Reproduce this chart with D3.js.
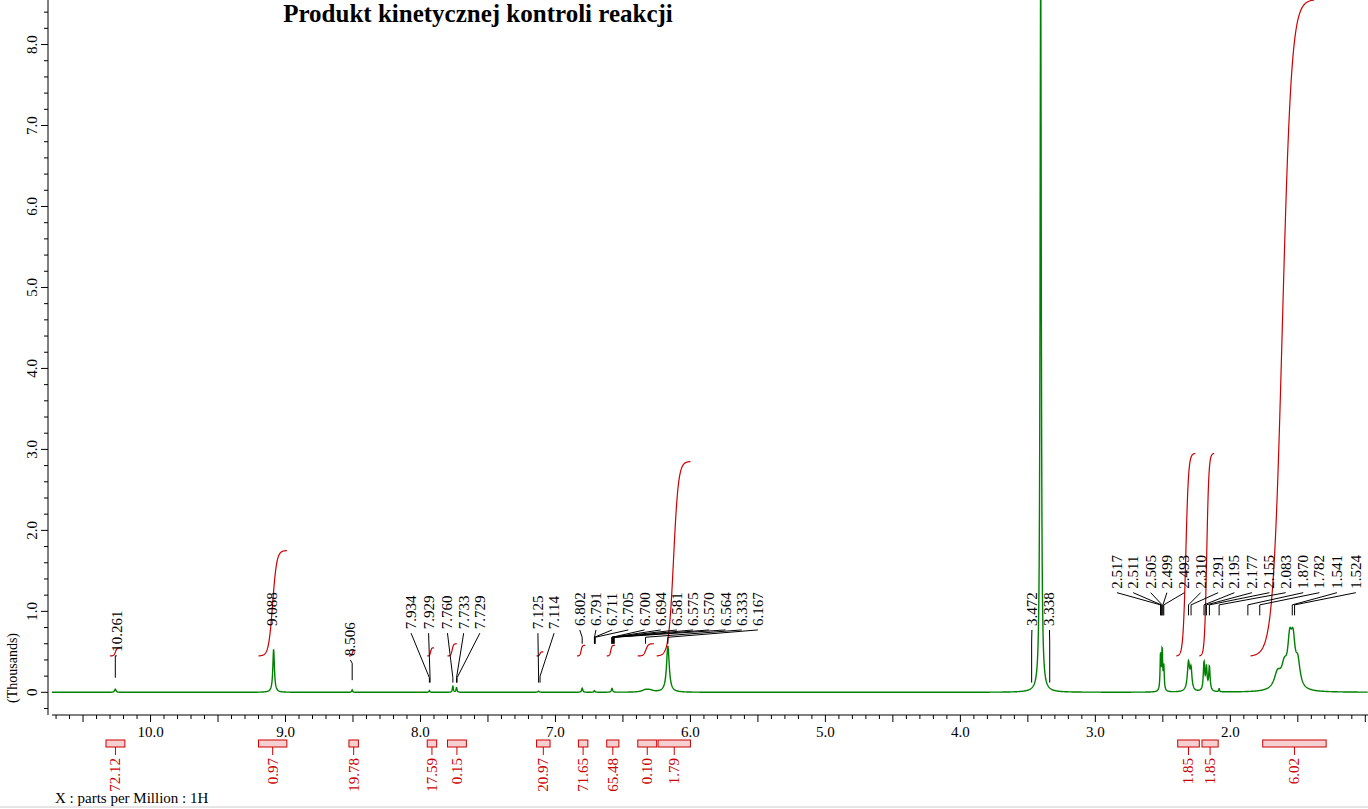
<!DOCTYPE html><html><head><meta charset="utf-8"><script src="https://cdn.jsdelivr.net/npm/d3@7"></script>
<style>body{margin:0;background:#fff}svg{font-family:"Liberation Serif","Times New Roman",serif}</style></head><body><svg id="c" width="1368" height="809"></svg>
<script>
// peaks: ppm, height (thousands), half-width (ppm)
const peakPpm=[10.261,9.088,8.506,7.934,7.760,7.733,7.125,6.802,6.711,6.581,6.333,6.30,6.167,3.405,2.517,2.505,2.493,2.310,2.291,2.195,2.177,2.155,2.083,1.65,1.60,1.56,1.535,1.50];
const peakH=[0.04,0.53,0.03,0.02,0.08,0.06,0.015,0.05,0.02,0.05,0.025,0.02,0.57,9.5,0.45,0.5,0.3,0.35,0.25,0.35,0.28,0.3,0.04,0.2,0.25,0.5,0.5,0.3];
const peakW=[0.006,0.007,0.004,0.004,0.004,0.004,0.006,0.005,0.005,0.005,0.03,0.03,0.012,0.005,0.004,0.004,0.004,0.01,0.008,0.006,0.006,0.006,0.003,0.03,0.025,0.018,0.018,0.02];
// integral curves: start ppm, end ppm, base, top (thousands)
const intS=[10.30,9.20,8.53,7.95,7.80,7.14,6.84,6.62,6.39,6.25,2.40,2.23,1.85];
const intE=[10.22,8.99,8.48,7.90,7.73,7.09,6.78,6.56,6.27,6.00,2.26,2.12,1.38];
const intB=[0.45,0.45,0.45,0.45,0.45,0.45,0.45,0.45,0.45,0.45,0.45,0.45,0.45];
const intT=[0.55,1.75,0.52,0.55,0.6,0.5,0.58,0.58,0.6,2.85,2.95,2.95,8.55];
// integration regions
const regS=[10.33,9.20,8.53,7.95,7.80,7.14,6.83,6.62,6.39,6.24,2.39,2.21,1.76];
const regE=[10.19,8.99,8.46,7.88,7.66,7.04,6.76,6.53,6.25,6.00,2.23,2.09,1.29];
const regLab=["72.12","0.97","19.78","17.59","0.15","20.97","71.65","65.48","0.10","1.79","1.85","1.85","6.02"];
// peak labels: text, label ppm position, peak ppm, group
const lblTxt=["10.261","9.088","8.506","7.934","7.929","7.760","7.733","7.729","7.125","7.114","6.802","6.791","6.711","6.705","6.700","6.694","6.581","6.575","6.570","6.564","6.333","6.167","3.472","3.338","2.517","2.511","2.505","2.499","2.493","2.310","2.291","2.195","2.177","2.155","2.083","1.870","1.782","1.541","1.524"];
const lblPpm=[10.25,9.10,8.52,8.07,7.94,7.80,7.68,7.56,7.13,7.01,6.82,6.70,6.58,6.46,6.34,6.22,6.10,5.98,5.86,5.74,5.62,5.50,3.47,3.34,2.84,2.72,2.59,2.47,2.34,2.22,2.09,1.97,1.84,1.71,1.59,1.46,1.34,1.21,1.07];
const lblPk=[10.261,9.088,8.506,7.934,7.929,7.760,7.733,7.729,7.125,7.114,6.802,6.711,6.711,6.705,6.581,6.581,6.581,6.575,6.570,6.564,6.333,6.167,3.472,3.338,2.517,2.511,2.505,2.499,2.493,2.310,2.291,2.195,2.177,2.155,2.083,1.870,1.782,1.541,1.524];
const lblGrp=[0,1,2,3,3,3,3,3,4,4,5,5,5,5,5,5,5,5,5,5,5,5,6,6,7,7,7,7,7,7,7,7,7,7,7,7,7,7,7];
// group geometry in thousands: text bottom, line bend, line end
const grpBot=[0.5,0.82,0.45,0.78,0.78,0.82,0.82,1.28];
const grpBend=[0.52,0.85,0.36,0.18,0.2,0.68,0.62,1.08];
const grpEnd=[0.18,0.85,0.15,0.12,0.12,0.6,0.12,0.95];
const yTicks=[0,1,2,3,4,5,6,7,8];
const xTicks=[10,9,8,7,6,5,4,3,2];

const svg=d3.select("#c");
const x=d3.scaleLinear().domain([10.73,0.98]).range([52,1368]);
const y=d3.scaleLinear().domain([-0.28,8.55]).range([715,0]);
const g=svg.append("g");
const pts=d3.range(10.73,0.98,-0.002).map(p=>{let v=0;for(let i=0;i<peakPpm.length;i++){const d=(p-peakPpm[i])/peakW[i];v+=peakH[i]/(1+d*d);}return [p,Math.min(v,8.7)];});
g.append("path").attr("d",d3.line().x(d=>x(d[0])).y(d=>y(d[1]))(pts)).attr("fill","none").attr("stroke","#008000").attr("stroke-width",1.4);
intS.forEach((s,i)=>{const e=intE[i];const ps=d3.range(0,1.0001,0.01).map(t=>{const p=s+(e-s)*t;const f=(Math.tanh((t-0.5)*7)/Math.tanh(3.5)+1)/2;return [p,intB[i]+(intT[i]-intB[i])*f];});
 g.append("path").attr("d",d3.line().x(d=>x(d[0])).y(d=>y(d[1]))(ps)).attr("fill","none").attr("stroke","#cc0000").attr("stroke-width",1.2);});
lblTxt.forEach((t,i)=>{const k=lblGrp[i];const lx=x(lblPpm[i]),px=x(lblPk[i]);
 g.append("text").attr("transform",`translate(${lx+5},${y(grpBot[k])}) rotate(-90)`).attr("font-size",15).text(t);
 if(k!==1){const yb=y(grpBot[k])+4;g.append("path").attr("d",`M${lx},${yb}L${px},${Math.max(yb,y(grpBend[k]))}L${px},${y(grpEnd[k])}`).attr("fill","none").attr("stroke","#000").attr("stroke-width",1);}});
const ax=g.append("g").attr("transform","translate(0,715)");
ax.append("line").attr("x1",52).attr("x2",1368).attr("stroke","#000");
d3.range(10.7,0.99,-0.1).forEach(p=>{const r=Math.round(p*10);ax.append("line").attr("x1",x(p)).attr("x2",x(p)).attr("y1",0).attr("y2",r%5===0?7:4).attr("stroke","#000");});
xTicks.forEach(p=>ax.append("text").attr("x",x(p)).attr("y",22).attr("text-anchor","middle").attr("font-size",15).text(p.toFixed(1)));
const ay=g.append("g");
ay.append("line").attr("x1",48).attr("x2",48).attr("y1",0).attr("y2",715).attr("stroke","#000");
d3.range(-0.2,8.6,0.2).forEach(v=>{const r=Math.round(v*5);ay.append("line").attr("x1",48).attr("x2",r%5===0?41:44).attr("y1",y(v)).attr("y2",y(v)).attr("stroke","#000");});
yTicks.forEach(v=>ay.append("text").attr("transform",`translate(37,${y(v)}) rotate(-90)`).attr("text-anchor","middle").attr("font-size",15).text(v===0?"0":v.toFixed(1)));
g.append("text").attr("transform","translate(17,668) rotate(-90)").attr("text-anchor","middle").attr("font-size",14).text("(Thousands)");
regS.forEach((s,i)=>{const x1=x(s),x2=x(regE[i]),cx=(x1+x2)/2;
 g.append("rect").attr("x",x1).attr("y",740).attr("width",x2-x1).attr("height",7).attr("fill","#f6d0d0").attr("stroke","#cc0000");
 g.append("line").attr("x1",cx).attr("x2",cx).attr("y1",747).attr("y2",755).attr("stroke","#cc0000");
 g.append("text").attr("transform",`translate(${cx+5},${758}) rotate(-90)`).attr("text-anchor","end").attr("font-size",15).attr("fill","#cc0000").text(regLab[i]);});
g.append("text").attr("x",55).attr("y",803).attr("font-size",15).text("X : parts per Million : 1H");
g.append("text").attr("x",478).attr("y",22).attr("text-anchor","middle").attr("font-size",25).attr("font-weight","bold").text("Produkt kinetycznej kontroli reakcji");
svg.append("line").attr("x1",0).attr("x2",1368).attr("y1",807).attr("y2",807).attr("stroke","#ccc");
</script></body></html>
